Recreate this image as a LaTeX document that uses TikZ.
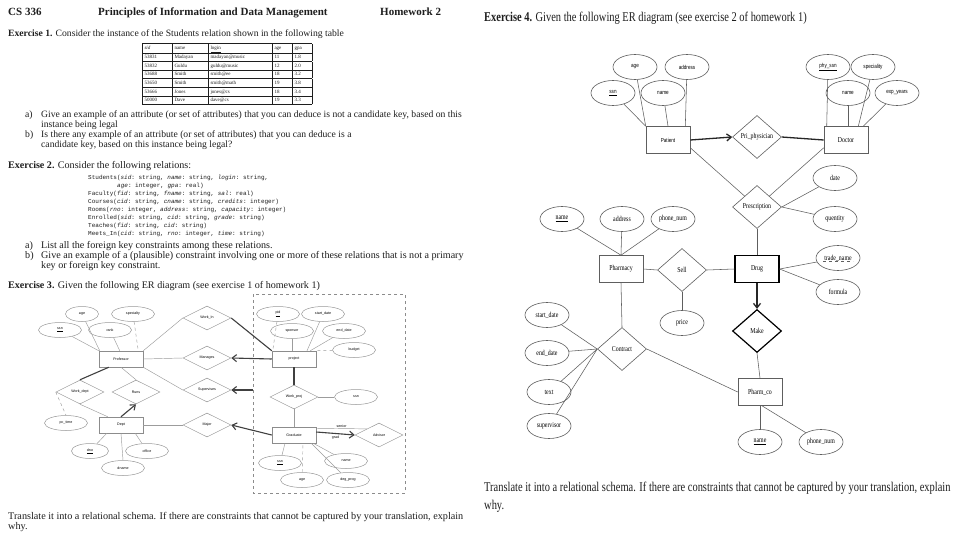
\documentclass[tikz,border=0pt]{standalone}
\usepackage{fontspec}
\setmainfont{Liberation Serif}
\setsansfont{Liberation Sans}
\setmonofont{Liberation Mono}
\newfontfamily\narrowserif[FakeStretch=0.78]{Liberation Serif}
\newfontfamily\narrowsans[FakeStretch=0.8]{Liberation Sans}
\usetikzlibrary{arrows.meta,positioning,shapes.geometric}
\definecolor{ink}{HTML}{1E1E1E}
\definecolor{faint}{HTML}{9C9C9C}
\definecolor{erline}{HTML}{5E5E5E}
\newcommand{\erfont}{\sffamily\fontsize{3.6}{4}\selectfont}
\newcommand{\bigerfont}{\narrowserif\fontsize{7.5}{9}\selectfont}
\newcommand{\smallerfont}{\narrowsans\fontsize{5.8}{7}\selectfont}
\tikzset{>={Straight Barb[length=4.5pt,width=7pt]},
  hd/.style={anchor=base west,inner sep=0pt,text=ink,font=\fontsize{11}{13}\selectfont\bfseries},
  txt/.style={anchor=base west,inner sep=0pt,text=ink,font=\fontsize{9.65}{11}\selectfont},
  txtb/.style={txt,font=\fontsize{10.1}{12}\selectfont},
  rels/.style={anchor=base west,inner sep=0pt,text=ink,font=\ttfamily\fontsize{6}{7}\selectfont},
  ntxt/.style={anchor=base west,inner sep=0pt,text=ink,font=\narrowserif\fontsize{13.4}{15}\selectfont},
  ent/.style={draw=black!45,line width=.5pt,minimum width=44pt,minimum height=16pt,inner sep=0pt,font=\erfont},
  rel/.style={draw=black!40,line width=.5pt,diamond,minimum width=48pt,minimum height=24pt,inner sep=0pt,font=\erfont},
  att/.style={draw=black!40,line width=.5pt,ellipse,minimum width=43pt,minimum height=15pt,inner sep=0pt,font=\erfont},
  link/.style={draw=faint,line width=.45pt},
  heavy/.style={draw=black!75,line width=1.1pt},
  bent/.style={draw=erline,line width=.6pt,minimum width=44pt,minimum height=27pt,inner sep=0pt,font=\bigerfont},
  brel/.style={draw=erline,line width=.6pt,diamond,minimum width=49pt,minimum height=43pt,inner sep=0pt,font=\bigerfont},
  batt/.style={draw=erline,line width=.6pt,ellipse,minimum width=44pt,minimum height=25pt,inner sep=0pt,font=\bigerfont},
  blink/.style={draw=erline,line width=.55pt},
  bheavy/.style={draw=black!85,line width=1.3pt}}
\begin{document}
\begin{tikzpicture}[x=1pt,y=-1pt]
\useasboundingbox[fill=white] (0,0) rectangle (960,540);
% ---- header
\node[hd] (course) at (8,16) {CS 336};
\node[hd] (ctitle) at (98,16) {Principles of Information and Data Management};
\node[hd] (hwno) at (380,16) {Homework 2};
% ---- exercise 1
\node[txt] (ex1) at (8,37) {\textbf{Exercise 1.} Consider the instance of the Students relation shown in the following table};
\node[inner sep=0pt,text=ink,font=\fontsize{5}{5.2}\selectfont] (stutab) at (227,74) {%
\setlength{\tabcolsep}{2.5pt}\setlength{\arrayrulewidth}{.3pt}\renewcommand{\arraystretch}{1.6}%
\begin{tabular}{|p{25pt}|p{31pt}|p{59pt}|p{15pt}|p{15pt}|}
\hline
\textit{sid} & name & \underline{login} & age & gpa\\ \hline
53831 & Madayan & madayan@music & 11 & 1.8\\ \hline
53832 & Guldu & guldu@music & 12 & 2.0\\ \hline
53688 & Smith & smith@ee & 18 & 3.2\\ \hline
53650 & Smith & smith@math & 19 & 3.8\\ \hline
53666 & Jones & jones@cs & 18 & 3.4\\ \hline
50000 & Dave & dave@cs & 19 & 3.3\\ \hline
\end{tabular}};
\node[txt] (q1a) at (25,118) {a)};
\node[txt] (q1atext) at (41,118) {Give an example of an attribute (or set of attributes) that you can deduce is not a candidate key, based on this};
\node[txt] (q1atext2) at (41,128) {instance being legal};
\node[txt] (q1b) at (25,138) {b)};
\node[txt] (q1btext) at (41,138) {Is there any example of an attribute (or set of attributes) that you can deduce is a};
\node[txt] (q1btext2) at (41,148) {candidate key, based on this instance being legal?};
% ---- exercise 2
\node[txtb] (ex2) at (8,168) {\textbf{Exercise 2.} Consider the following relations:};
\node[rels] (rstud) at (88,179) {Students(\textit{sid}: string, \textit{name}: string, \textit{login}: string,};
\node[rels] (rstud2) at (117,187) {\textit{age}: integer, \textit{gpa}: real)};
\node[rels] (rfac) at (88,195) {Faculty(\textit{fid}: string, \textit{fname}: string, \textit{sal}: real)};
\node[rels] (rcour) at (88,203) {Courses(\textit{cid}: string, \textit{cname}: string, \textit{credits}: integer)};
\node[rels] (rroom) at (88,211) {Rooms(\textit{rno}: integer, \textit{address}: string, \textit{capacity}: integer)};
\node[rels] (renr) at (88,219) {Enrolled(\textit{sid}: string, \textit{cid}: string, \textit{grade}: string)};
\node[rels] (rteach) at (88,227) {Teaches(\textit{fid}: string, \textit{cid}: string)};
\node[rels] (rmeet) at (88,235) {Meets\_In(\textit{cid}: string, \textit{rno}: integer, \textit{time}: string)};
\node[txtb] (q2a) at (25,248) {a)};
\node[txtb] (q2atext) at (41,248) {List all the foreign key constraints among these relations.};
\node[txtb] (q2b) at (25,258) {b)};
\node[txtb] (q2btext) at (41,258) {Give an example of a (plausible) constraint involving one or more of these relations that is not a primary};
\node[txtb] (q2btext2) at (41,268) {key or foreign key constraint.};
% ---- exercise 3
\node[txtb] (ex3) at (8,288) {\textbf{Exercise 3.} Given the following ER diagram (see exercise 1 of homework 1)};
\draw[black!45,dashed,line width=.5pt] (253,294) rectangle (405,493);
\node[att,minimum width=33pt] (profage) at (82,314) {age};
\node[att] (profspec) at (133,314) {specialty};
\node[att] (profssn) at (60,330) {\underline{ssn}};
\node[att] (profrank) at (110,330) {rank};
\node[ent] (prof) at (121,359) {Professor};
\node[rel] (worksin) at (207,318) {Work\_In};
\node[rel] (manages) at (207,358) {Manages};
\node[rel] (superv) at (207,390) {Supervises};
\node[rel] (workdept) at (80,392) {Work\_dept};
\node[rel] (runs) at (136,392) {Runs};
\node[att] (pctime) at (66,423) {pc\_time};
\node[ent] (dept) at (121,425) {Dept};
\node[rel] (major) at (207,425) {Major};
\node[att,minimum width=37pt] (dno) at (90,451) {\underline{dno}};
\node[att] (doffice) at (147,451) {office};
\node[att] (dname) at (123,468) {dname};
\node[att] (pid) at (278,314) {\underline{pid}};
\node[att] (pstart) at (323,314) {start\_date};
\node[att] (psponsor) at (292,331) {sponsor};
\node[att] (pend) at (344,331) {end\_date};
\node[att] (pbudget) at (354,350) {budget};
\node[ent] (proj) at (294,359) {project};
\node[rel] (workproj) at (294,397) {Work\_proj};
\node[att] (wpssn) at (356,397) {ssn};
\node[ent] (grad) at (294,435) {Graduate};
\node[rel] (advisor) at (379,435) {Advisor};
\node[att] (gssn) at (280,463) {\underline{ssn}};
\node[att] (gname) at (346,461) {name};
\node[att] (gage) at (302,480) {age};
\node[att] (gdeg) at (348,480) {deg\_prog};
\coordinate (aggleft) at (253,390);
\draw[link] (profssn) -- (prof.north west);
\draw[link] (profage) -- ([xshift=1pt]prof.north west);
\draw[link] (profrank) -- ([xshift=21pt]prof.north west);
\draw[link,dashed] (profspec) -- ([xshift=-5pt]prof.north east);
\draw[link] (prof.north east) -- (worksin.west);
\draw[heavy] (worksin.east) -- (proj.north west);
\draw[link] (prof.east) -- (manages.west);
\draw[heavy,->] (proj.west) -- (manages.east);
\draw[link] (prof.south east) -- (superv.west);
\draw[heavy,->] (aggleft) -- (superv.east);
\draw[heavy] ([xshift=10pt]prof.south west) -- (workdept.north);
\draw[link] (prof.south) -- (runs.north);
\draw[link] (workdept.south) -- ([xshift=9pt]dept.north west);
\draw[link,dashed] (workdept.west) -- (pctime.north);
\draw[heavy,->] (dept.north) -- (runs.south);
\draw[link] (dept.east) -- (major.west);
\draw[heavy,->] (grad.west) -- (major.east);
\draw[link] (dno) -- ([xshift=8pt]dept.south west);
\draw[link] (doffice) -- ([xshift=-8pt]dept.south east);
\draw[link] (dept.south) -- (dname.north);
\draw[link,dashed] (pid) -- ([xshift=1pt]proj.north west);
\draw[link] (psponsor.south) -- (psponsor.south |- proj.north);
\draw[link] (pstart) -- ([xshift=13pt]proj.north);
\draw[link] (pend) -- ([xshift=-6pt]proj.north east);
\draw[link,dashed] (pbudget) -- (proj.north east);
\draw[heavy] (proj.south) -- (workproj.north);
\draw[link] (workproj.east) -- (wpssn.west);
\draw[link] (workproj.south) -- (grad.north);
\draw[link] ([yshift=-1.5pt]grad.north east) -- node[above=.5pt,inner sep=0pt,font=\erfont] (lsenior) {senior} (advisor.north west);
\draw[heavy,->] ([yshift=3pt]grad.east) -- node[below=1.5pt,inner sep=0pt,font=\erfont] (lgrad) {grad} (advisor.west);
\draw[link] (gssn) -- ([xshift=-9pt]grad.south);
\draw[link,dashed] (gage) -- ([xshift=9pt]grad.south);
\draw[link] (gdeg) -- ([xshift=-5pt]grad.south east);
\draw[link] (gname) -- ([xshift=-3pt]grad.south east);
\node[txtb,font=\fontsize{10.2}{12}\selectfont] (trans3) at (8,519) {Translate it into a relational schema. If there are constraints that cannot be captured by your translation, explain};
\node[txtb,font=\fontsize{10.2}{12}\selectfont] (trans3b) at (8,529) {why.};
% ---- exercise 4
\node[ntxt] (ex4) at (484,22) {\textbf{Exercise 4.} Given the following ER diagram (see exercise 2 of homework 1)};
\node[batt,font=\smallerfont] (page) at (635,67) {age};
\node[batt,font=\smallerfont] (paddr) at (687,67) {address};
\node[batt,font=\smallerfont] (pssn) at (613,93) {\underline{ssn}};
\node[batt,font=\smallerfont] (pname) at (663,93) {name};
\node[bent,font=\smallerfont] (patient) at (668,140) {Patient};
\node[brel] (priphys) at (757,137) {Pri\_physician};
\node[bent] (doctor) at (846,140) {Doctor};
\node[batt,font=\smallerfont] (dssn) at (828,67) {\underline{phy\_ssn}};
\node[batt,font=\smallerfont] (dspec) at (873,67) {speciality};
\node[batt,font=\smallerfont] (dname2) at (848,93) {name};
\node[batt,font=\smallerfont] (dexp) at (897,93) {exp\_years};
\node[brel] (prescr) at (757,207) {Prescription};
\node[batt] (date) at (835,178) {date};
\node[batt] (qty) at (835,219) {quentity};
\node[batt] (phname) at (562,219) {\underline{name}};
\node[batt] (phaddr) at (622,219) {address};
\node[batt] (phphone) at (673,219) {phone\_num};
\node[bent] (pharmacy) at (621,269) {Pharmacy};
\node[brel] (sell) at (682,270) {Sell};
\node[bent,draw=black,line width=1.2pt] (drug) at (757,269) {Drug};
\node[batt] (tname) at (838,258) {trade\_name};
\node[batt] (formula) at (838,292) {formula};
\node[batt] (price) at (682,323) {price};
\node[brel,draw=black,line width=1.2pt] (make) at (757,331) {Make};
\node[batt] (sdate) at (547,315) {start\_date};
\node[batt] (edate) at (547,353) {end\_date};
\node[brel] (contract) at (622,349) {Contract};
\node[batt] (text) at (549,392) {text};
\node[batt] (superv2) at (549,426) {supervisor};
\node[bent] (pharmco) at (760,392) {Pharm\_co};
\node[batt] (pcname) at (760,442) {\underline{name}};
\node[batt] (pcphone) at (821,442) {phone\_num};
\draw[erline,dashed,line width=.4pt] ([xshift=-15pt,yshift=-3.5pt]tname.center) -- ([xshift=15pt,yshift=-3.5pt]tname.center);
\draw[blink] (pssn) -- (patient.north west);
\draw[blink] (page) -- (patient.north west);
\draw[blink] (pname) -- (patient.north);
\draw[blink] (paddr) -- ([xshift=-5pt]patient.north east);
\draw[bheavy,->] (patient.east) -- (priphys.west);
\draw[bheavy] (priphys.east) -- (doctor.west);
\draw[blink] (dssn) -- ([xshift=3pt]doctor.north west);
\draw[blink] (dname2.south) -- (dname2.south |- doctor.north);
\draw[blink] (dspec) -- ([xshift=-10pt]doctor.north east);
\draw[blink] (dexp) -- ([xshift=-5pt]doctor.north east);
\draw[blink] ([yshift=6pt]patient.south east) -- (prescr.north west);
\draw[blink] ([yshift=6pt]doctor.south west) -- (prescr.north east);
\draw[blink] (prescr.east) -- (date);
\draw[blink] (prescr.east) -- (qty);
\draw[blink] (prescr.south) -- (drug.north);
\draw[blink] (phname) -- (pharmacy.north);
\draw[blink] (phaddr) -- (pharmacy.north);
\draw[blink] (phphone) -- (pharmacy.north);
\draw[blink] (pharmacy.east) -- (sell.west);
\draw[blink] (sell.east) -- (drug.west);
\draw[blink] (sell.south) -- (price.north);
\draw[bheavy,->] (drug.south) -- (make.north);
\draw[blink] (drug.east) -- (tname);
\draw[blink] (drug.east) -- (formula);
\draw[blink] (pharmacy.south) -- (contract.north);
\draw[blink] (contract.west) -- (sdate);
\draw[blink] (contract.west) -- (edate);
\draw[blink] (contract.west) -- (text);
\draw[blink] (contract.west) -- (superv2);
\draw[blink] (contract.east) -- (pharmco.west);
\draw[blink] (make.south) -- (pharmco.north);
\draw[blink] (pharmco.south) -- (pcname.north);
\draw[blink] ([xshift=2pt]pharmco.south) -- (pcphone);
\node[ntxt] (trans4) at (484,491) {Translate it into a relational schema. If there are constraints that cannot be captured by your translation, explain};
\node[ntxt] (trans4b) at (484,509) {why.};
\end{tikzpicture}
\end{document}
